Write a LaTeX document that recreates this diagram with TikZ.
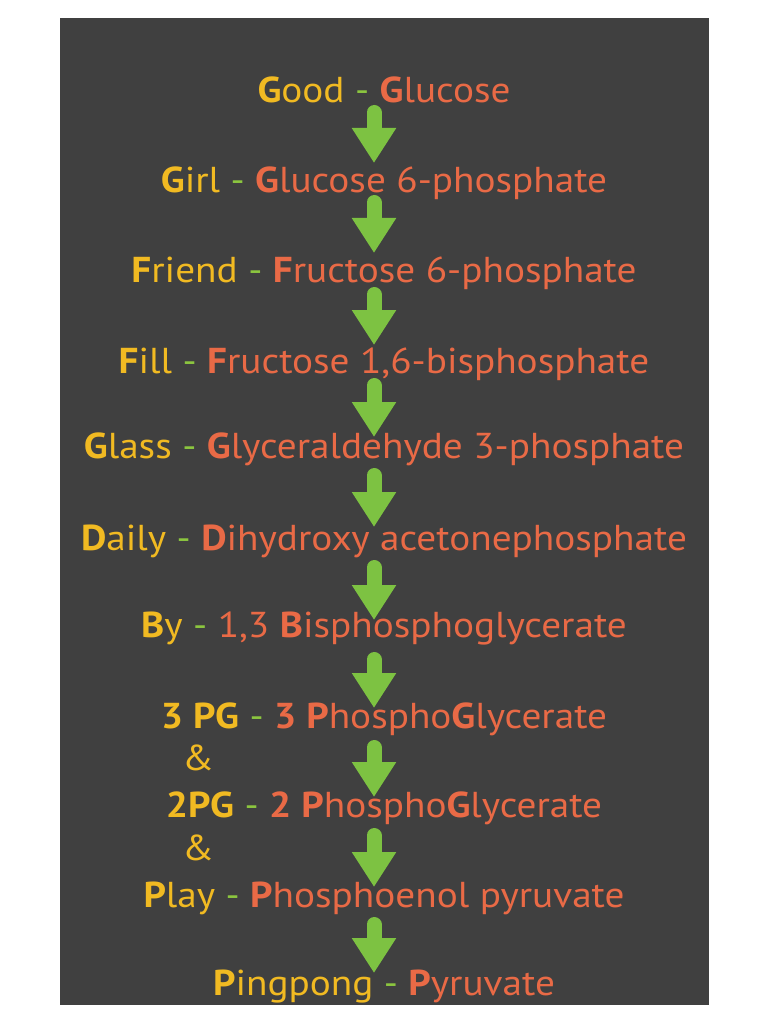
\documentclass[tikz,border=0pt]{standalone}
\usepackage{graphicx}
\usepackage{fontspec}
\setmainfont{PT Sans}
\usetikzlibrary{arrows.meta}
\definecolor{bgdark}{HTML}{404040}
\definecolor{yel}{HTML}{F1BA22}
\definecolor{mol}{HTML}{E96A46}
\definecolor{dashgreen}{HTML}{8CC63F}
\definecolor{arrgreen}{HTML}{7DC242}
\newcommand\mn[1]{\textcolor{yel}{#1}}
\newcommand\ml[1]{\textcolor{mol}{#1}}
\newcommand\dsh{\textcolor{dashgreen}{-}}
\newcommand\sx[1]{\scalebox{1.09}[1]{#1}}
\begin{document}
\begin{tikzpicture}[x=1pt,y=-1pt,
  txtline/.style={font=\fontsize{36}{40}\selectfont, anchor=base, inner sep=0pt},
  flow/.style={draw=arrgreen, line width=15pt, line cap=round, -{Triangle[width=42pt,length=35pt,fill=arrgreen]}}]
\useasboundingbox (0,0) rectangle (768,1024);
\fill[white] (0,0) rectangle (768,1024);
\fill[bgdark] (60,18) rectangle (709,1005);
\node[txtline] (l1) at (384,103) {\sx{\mn{\textbf{G}ood} \dsh{} \ml{\textbf{G}lucose}}};
\node[txtline] (l2) at (384,193) {\sx{\mn{\textbf{G}irl} \dsh{} \ml{\textbf{G}lucose 6-phosphate}}};
\node[txtline] (l3) at (384,282) {\sx{\mn{\textbf{F}riend} \dsh{} \ml{\textbf{F}ructose 6-phosphate}}};
\node[txtline] (l4) at (384,373) {\sx{\mn{\textbf{F}ill} \dsh{} \ml{\textbf{F}ructose 1,6-bisphosphate}}};
\node[txtline] (l5) at (384,458) {\sx{\mn{\textbf{G}lass} \dsh{} \ml{\textbf{G}lyceraldehyde 3-phosphate}}};
\node[txtline] (l6) at (384,550) {\sx{\mn{\textbf{D}aily} \dsh{} \ml{\textbf{D}ihydroxy acetonephosphate}}};
\node[txtline] (l7) at (384,637) {\sx{\mn{\textbf{B}y} \dsh{} \ml{1,3 \textbf{B}isphosphoglycerate}}};
\node[txtline] (l8) at (384,728) {\sx{\mn{\textbf{3 PG}} \dsh{} \ml{\textbf{3 P}hospho\textbf{G}lycerate}}};
\node[txtline] (amp1) at (198,770) {\sx{\mn{\&}}};
\node[txtline] (l9) at (384,817) {\sx{\mn{\textbf{2PG}} \dsh{} \ml{\textbf{2 P}hospho\textbf{G}lycerate}}};
\node[txtline] (amp2) at (198,860) {\sx{\mn{\&}}};
\node[txtline] (l10) at (384,907) {\sx{\mn{\textbf{P}lay} \dsh{} \ml{\textbf{P}hosphoenol pyruvate}}};
\node[txtline] (l11) at (384,995) {\sx{\mn{\textbf{P}ingpong} \dsh{} \ml{\textbf{P}yruvate}}};
\foreach \i/\t/\e in {1/105/163, 2/195/253, 3/287/345, 4/378/437, 5/468/527, 6/560/620, 7/652/708, 8/740/797, 9/828/887, 10/917/973}{
  \coordinate (s\i) at (374,\t+7.5);
  \coordinate (e\i) at (374,\e);
  \draw[flow] (s\i) -- (e\i);
}
\end{tikzpicture}
\end{document}
